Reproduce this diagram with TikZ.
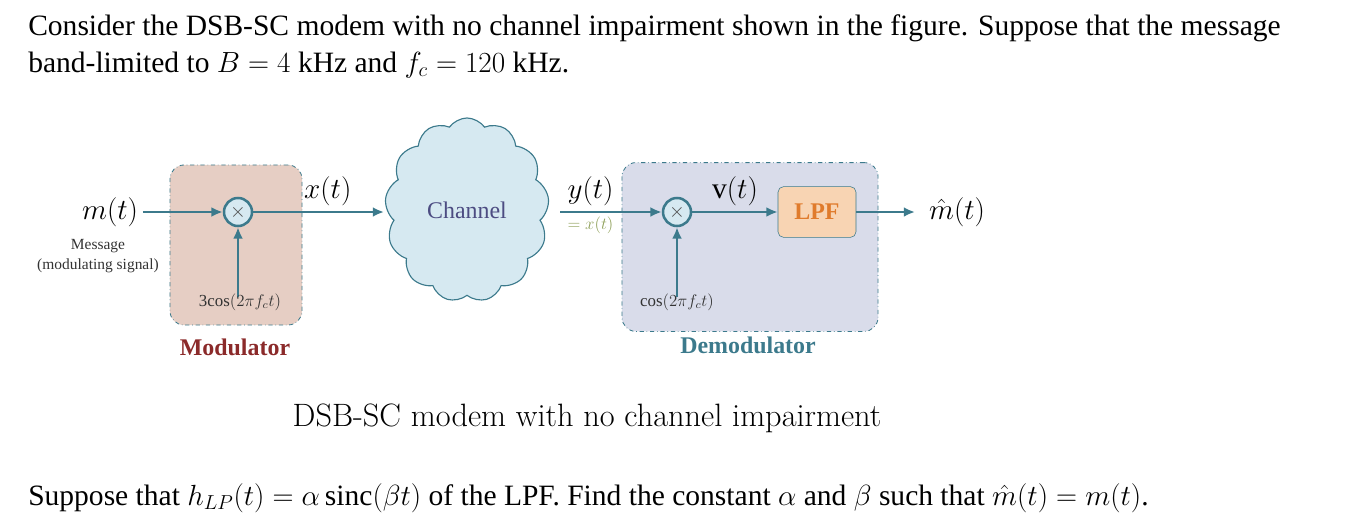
\documentclass[tikz,border=0pt]{standalone}
\usepackage{fontspec}
\usepackage{amsmath}
\setmainfont{Liberation Serif}
\usetikzlibrary{shapes.symbols,arrows.meta}
\definecolor{wire}{HTML}{3C7A8C}
\definecolor{modfill}{HTML}{E6CEC4}
\definecolor{demfill}{HTML}{D9DCEA}
\definecolor{chfill}{HTML}{D6E9F1}
\definecolor{lpffill}{HTML}{F8D4B3}
\definecolor{modred}{HTML}{8B2A2A}
\definecolor{lpftext}{HTML}{E07B2C}
\definecolor{eqgreen}{HTML}{8FA05A}
\tikzset{
  sig/.style={wire, line width=1.8pt, -{Latex[length=8pt,width=7pt]}},
  mixer/.style={circle, draw=wire, line width=1.8pt, fill=chfill, minimum size=0.7cm, inner sep=0pt, text=black!70, font=\Large},
  unit/.style={rounded corners=10pt, draw=wire, dash dot, line width=0.6pt},
  lbl/.style={font=\fontsize{21}{25}\selectfont, text=black},
  small/.style={font=\fontsize{12}{14}\selectfont, text=black!80}
}
\begin{document}
\begin{tikzpicture}[x=0.025cm, y=-0.025cm]
\useasboundingbox (0,0) rectangle (1352,526);
% question text
\node[lbl, anchor=base west, inner sep=0pt] (q1) at (28,35) {Consider the DSB-SC modem with no channel impairment shown in the figure. Suppose that the message};
\node[lbl, anchor=base west, inner sep=0pt] (q2) at (28,72) {band-limited to $B=4$ kHz and $f_c=120$ kHz.};
% boxes
\node[unit, fill=modfill, minimum width=3.3cm, minimum height=4cm] (modbox) at (236,245) {};
\node[unit, fill=demfill, minimum width=6.4cm, minimum height=4.22cm] (dembox) at (750,247) {};
\node[cloud, cloud puffs=13, cloud puff arc=110, aspect=0.85, draw=wire, line width=0.8pt, fill=chfill,
  minimum width=4.1cm, minimum height=4.6cm, font=\fontsize{17}{20}\selectfont, text=blue!30!black!70] (chan) at (467,210) {Channel};
% mixers and filter
\node[mixer] (mix1) at (238,212) {$\times$};
\node[mixer] (mix2) at (677,212) {$\times$};
\node[rounded corners=4pt, draw=wire, fill=lpffill, minimum width=1.95cm, minimum height=1.27cm,
  text=lpftext, font=\fontsize{17}{20}\selectfont\bfseries] (lpf) at (817,212) {LPF};
% signals
\node[lbl] (msg) at (110,212) {$m(t)$};
\node[lbl] (mhat) at (957,212) {$\hat{m}(t)$};
\coordinate (lo1) at (238,297);
\coordinate (lo2) at (677,297);
\coordinate (out) at (915,212);
\coordinate (chin) at (384,212);
\coordinate (chout) at (560,212);
\draw[sig] (msg) -- (mix1);
\draw[sig] (mix1) -- node[lbl, above=0pt, pos=0.57] {$x(t)$} (chin);
\draw[sig] (chout) -- node[lbl, above=0pt, pos=0.3] {$y(t)$} node[font=\fontsize{12}{14}\selectfont, below=-1pt, pos=0.3, text=eqgreen] {$=x(t)$} (mix2);
\draw[sig] (mix2) -- node[lbl, above=0pt] {$\mathrm{v}(t)$} (lpf);
\draw[sig] (lpf) -- (out);
\draw[sig] (lo1) -- (mix1);
\draw[sig] (lo2) -- (mix2);
% annotations
\node[small, below=2pt, align=center, font=\fontsize{11}{14}\selectfont] (msgtxt) at (98,232) {Message\\(modulating signal)};
\node[small] (c1) at (240,302) {3cos$(2\pi f_c t)$};
\node[small] (c2) at (677,302) {cos$(2\pi f_c t)$};
\node[font=\fontsize{17}{20}\selectfont\bfseries, text=modred] (modname) at (235,347) {Modulator};
\node[font=\fontsize{17}{20}\selectfont\bfseries, text=wire] (demname) at (748,345) {Demodulator};
\node[font=\fontsize{23}{27}\fontfamily{lmr}\selectfont] (cap) at (587,418) {DSB-SC modem with no channel impairment};
\node[lbl, anchor=base west, inner sep=0pt] (q3) at (28,505) {Suppose that $h_{LP}(t)=\alpha\,\mathrm{sinc}(\beta t)$ of the LPF. Find the constant $\alpha$ and $\beta$ such that $\hat{m}(t)=m(t)$.};
\end{tikzpicture}
\end{document}
